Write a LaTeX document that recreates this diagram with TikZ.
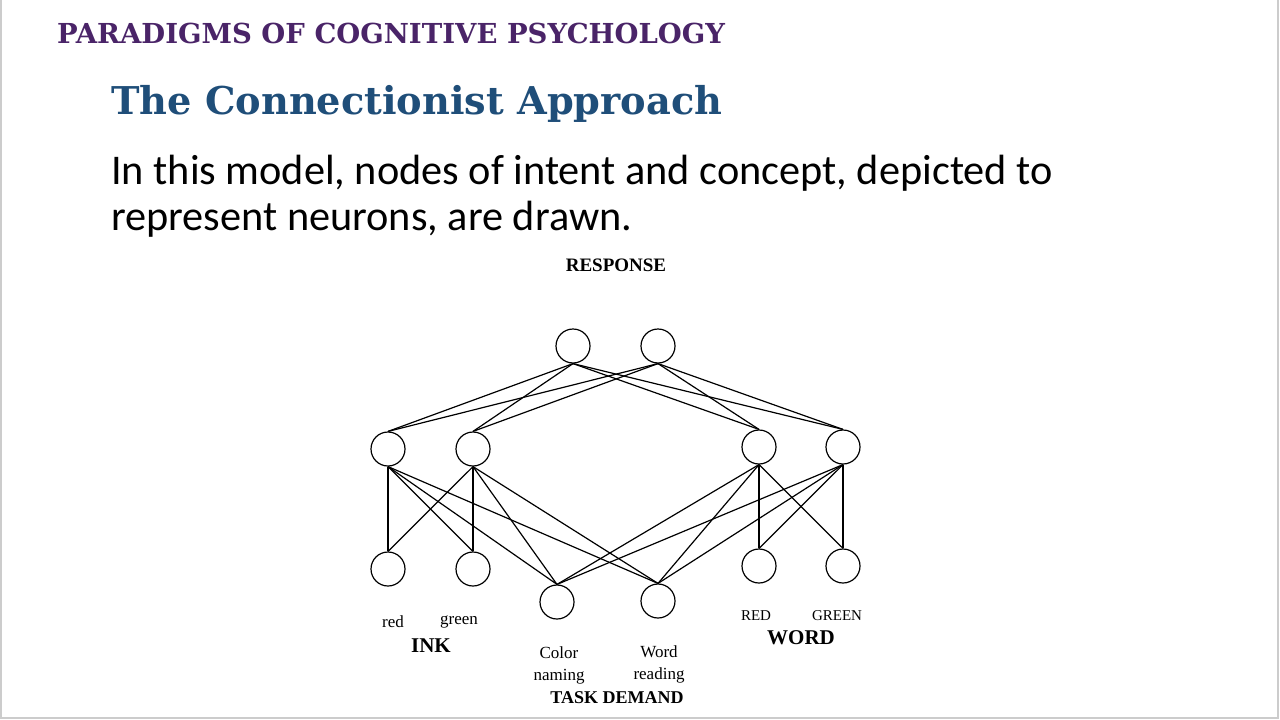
\documentclass[tikz,border=0pt]{standalone}
\usepackage{fontspec}
\setmainfont{Liberation Serif}
\newfontfamily\bodyf{Carlito}
\newfontfamily\headf{DejaVu Serif}
\definecolor{titlec}{HTML}{4A2468}
\definecolor{headc}{HTML}{1F4E79}
\begin{document}
\begin{tikzpicture}[x=1pt,y=-1pt,
  unit/.style={circle,draw,line width=1.2pt,minimum size=34pt,inner sep=0pt},
  conn/.style={line width=1.2pt},
  lab/.style={font=\fontsize{17}{19}\selectfont,align=center,inner sep=0pt},
  grp/.style={font=\fontsize{21}{23}\selectfont\bfseries,inner sep=0pt}]
\useasboundingbox (0,0) rectangle (1280,720);
\fill[white] (0,0) rectangle (1280,720);
\draw[gray!40,line width=1.5pt] (1,0) -- (1,718) -- (1278,718) -- (1278,0);
\node[anchor=west,inner sep=0pt,text=titlec,font=\headf\bfseries\fontsize{27.5}{30}\selectfont] (t1) at (57,33) {PARADIGMS OF COGNITIVE PSYCHOLOGY};
\node[anchor=west,inner sep=0pt,text=headc,font=\headf\bfseries\fontsize{38.3}{40}\selectfont] (t2) at (111,104) {The Connectionist Approach};
\node[anchor=north west,inner sep=0pt,align=left,font=\bodyf\fontsize{42.3}{46}\selectfont] (t3) at (111,155) {In this model, nodes of intent and concept, depicted to\\represent neurons, are drawn.};
\node[grp,font=\fontsize{19}{21}\selectfont\bfseries] (resp) at (616,265) {RESPONSE};
\node[unit] (r1) at (573,346) {};
\node[unit] (r2) at (658,346) {};
\node[unit] (h1) at (388,449) {};
\node[unit] (h2) at (473,449) {};
\node[unit] (h3) at (759,447) {};
\node[unit] (h4) at (843,447) {};
\node[unit] (i1) at (388,569) {};
\node[unit] (i2) at (473,569) {};
\node[unit] (i3) at (759,566) {};
\node[unit] (i4) at (843,566) {};
\node[unit] (c) at (557,602) {};
\node[unit] (w) at (658,601) {};
\foreach \r in {r1,r2}\foreach \h in {h1,h2,h3,h4} \draw[conn] (\r.south) -- (\h.north);
\foreach \h in {h1,h2} {\foreach \i in {i1,i2,c,w} \draw[conn] (\h.south) -- (\i.north);}
\foreach \h in {h3,h4} {\foreach \i in {i3,i4,c,w} \draw[conn] (\h.south) -- (\i.north);}
\node[lab] (lred) at (393,622) {red};
\node[lab] (lgreen) at (459,622) {green};
\node[grp] (ink) at (431,646) {INK};
\node[lab,font=\fontsize{15}{17}\selectfont] (lRED) at (756,616) {RED};
\node[lab,font=\fontsize{15}{17}\selectfont] (lGREEN) at (837,616) {GREEN};
\node[grp] (word) at (801,638) {WORD};
\node[lab,font=\fontsize{17}{22}\selectfont] (lc) at (559,665) {Color\\naming};
\node[lab,font=\fontsize{17}{22}\selectfont] (lw) at (659,664) {Word\\reading};
\node[grp,font=\fontsize{18}{20}\selectfont\bfseries] (task) at (617,698) {TASK DEMAND};
\end{tikzpicture}
\end{document}
